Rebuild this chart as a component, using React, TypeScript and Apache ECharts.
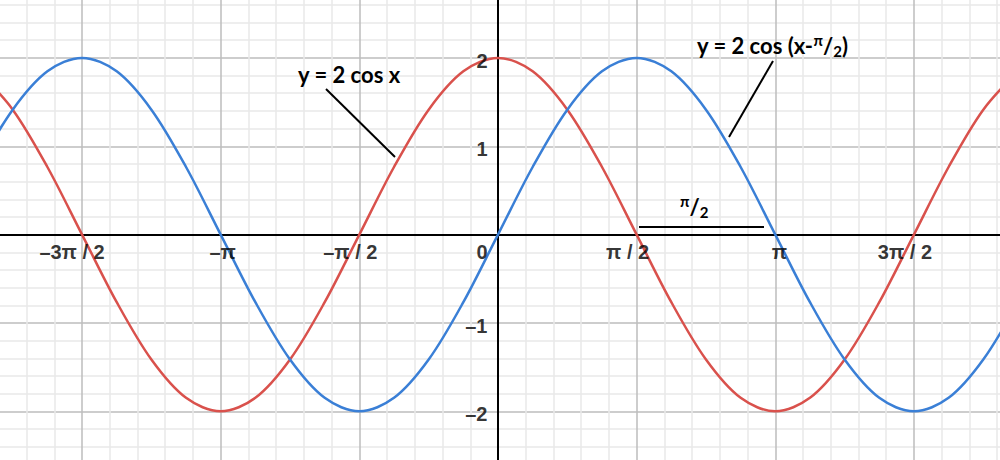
import React, { useEffect, useRef } from 'react';
import * as echarts from 'echarts';

// sample positions along x, in units of π (step π/8)
const xPi = [
  -1.875, -1.75, -1.625, -1.5, -1.375, -1.25, -1.125, -1, -0.875, -0.75, -0.625,
  -0.5, -0.375, -0.25, -0.125, 0, 0.125, 0.25, 0.375, 0.5, 0.625, 0.75, 0.875,
  1, 1.125, 1.25, 1.375, 1.5, 1.625, 1.75, 1.875,
];

// y = 2 cos x
const cosValues = [
  1.848, 1.414, 0.765, 0, -0.765, -1.414, -1.848, -2, -1.848, -1.414, -0.765,
  0, 0.765, 1.414, 1.848, 2, 1.848, 1.414, 0.765, 0, -0.765, -1.414, -1.848,
  -2, -1.848, -1.414, -0.765, 0, 0.765, 1.414, 1.848,
];

// y = 2 cos (x - π/2)
const shiftedValues = [
  0.765, 1.414, 1.848, 2, 1.848, 1.414, 0.765, 0, -0.765, -1.414, -1.848,
  -2, -1.848, -1.414, -0.765, 0, 0.765, 1.414, 1.848, 2, 1.848, 1.414, 0.765,
  0, -0.765, -1.414, -1.848, -2, -1.848, -1.414, -0.765,
];

const xTickValues = [-1.5, -1, -0.5, 0, 0.5, 1, 1.5];
const xTickLabels = ['–3π / 2', '–π', '–π / 2', '0', 'π / 2', 'π', '3π / 2'];
// horizontal nudge of each x label, as in the original
const xTickNudge = [-10, 2, -9, -16, -9, 4, -9];

const yTickValues = [-2, -1, 1, 2];
const yTickLabels = ['–2', '–1', '1', '2'];

const RED = '#d9514c';
const BLUE = '#3a7fd6';
const MAJOR = '#bdbdbd';
const MINOR = '#e8e8e8';

const tickFont = {
  fontFamily: '"Liberation Sans", Arial, sans-serif',
  fontWeight: 'bold' as const,
  fontSize: 20,
  color: '#000',
};

const noteFont = '"Lato", "Open Sans", sans-serif';

const noteRich = {
  a: { fontFamily: noteFont, fontWeight: 'bold', fontSize: 22, lineHeight: 26, color: '#000' },
  sup: { fontFamily: noteFont, fontWeight: 'bold', fontSize: 15, lineHeight: 15, verticalAlign: 'top', color: '#000' },
  sub: { fontFamily: noteFont, fontWeight: 'bold', fontSize: 15, lineHeight: 15, verticalAlign: 'bottom', color: '#000' },
};

const App: React.FC = () => {
  const chartRef = useRef<HTMLDivElement>(null);

  useEffect(() => {
    document.body.style.margin = '0';
    if (!chartRef.current) return;
    const chart = echarts.init(chartRef.current, undefined, { renderer: 'svg' });

    const gridAxis = {
      axisLine: { onZero: true, lineStyle: { color: '#000', width: 2 } },
      axisTick: { show: false },
      axisLabel: { show: false },
      splitLine: { show: true, lineStyle: { color: MAJOR, width: 1.5 } },
      minorTick: { show: false, splitNumber: 5 },
      minorSplitLine: { show: true, lineStyle: { color: MINOR, width: 1.5 } },
    };

    const option = {
      animation: false,
      backgroundColor: '#ffffff',
      grid: {
        left: -56.6,
        right: -52.6,
        top: -30.45,
        bottom: -39.65,
        containLabel: false,
        outerBoundsMode: 'none',
      },
      xAxis: { type: 'value', min: -2, max: 2, interval: 0.5, ...gridAxis },
      yAxis: { type: 'value', min: -3, max: 3, interval: 1, ...gridAxis },
      series: [
        {
          name: 'y = 2 cos x',
          type: 'line',
          data: xPi.map((x, i) => [x, cosValues[i]]),
          smooth: 0.33,
          showSymbol: false,
          symbol: 'none',
          lineStyle: { color: RED, width: 2.5 },
          z: 3,
        },
        {
          name: 'y = 2 cos (x-π/2)',
          type: 'line',
          data: xPi.map((x, i) => [x, shiftedValues[i]]),
          smooth: 0.33,
          showSymbol: false,
          symbol: 'none',
          lineStyle: { color: BLUE, width: 2.5 },
          z: 3,
        },
        {
          // tick labels along the x axis line
          name: 'xTicks',
          type: 'scatter',
          silent: true,
          symbolSize: 1,
          itemStyle: { color: 'rgba(0,0,0,0)' },
          data: xTickValues.map((v, i) => ({
            value: [v, 0],
            label: { offset: [xTickNudge[i], 0] },
          })),
          label: {
            show: true,
            position: 'bottom',
            distance: 7,
            ...tickFont,
            formatter: (p: any) => xTickLabels[p.dataIndex],
          },
          z: 5,
        },
        {
          // tick labels along the y axis line
          name: 'yTicks',
          type: 'scatter',
          silent: true,
          symbolSize: 1,
          itemStyle: { color: 'rgba(0,0,0,0)' },
          data: yTickValues.map((v) => [0, v]),
          label: {
            show: true,
            position: 'left',
            distance: 10,
            offset: [0, 3],
            ...tickFont,
            formatter: (p: any) => yTickLabels[p.dataIndex],
          },
          z: 5,
        },
      ],
      graphic: [
        {
          type: 'line',
          shape: { x1: 326, y1: 89, x2: 395, y2: 157 },
          style: { stroke: '#000', lineWidth: 2 },
          z: 10,
        },
        {
          type: 'text',
          x: 298,
          y: 74,
          style: {
            text: 'y = 2 cos x',
            font: `bold 22px ${noteFont}`,
            fill: '#000',
            verticalAlign: 'middle',
          },
          z: 10,
        },
        {
          type: 'line',
          shape: { x1: 773, y1: 61, x2: 729, y2: 137 },
          style: { stroke: '#000', lineWidth: 2 },
          z: 10,
        },
        {
          type: 'text',
          x: 697,
          y: 45,
          style: {
            text: '{a|y = 2 cos (x-}{sup|π}{a|/}{sub|2}{a|)}',
            verticalAlign: 'middle',
            rich: noteRich,
          },
          z: 10,
        },
        {
          type: 'line',
          shape: { x1: 639, y1: 227, x2: 764, y2: 227 },
          style: { stroke: '#000', lineWidth: 2 },
          z: 10,
        },
        {
          type: 'text',
          x: 680,
          y: 206,
          style: {
            text: '{sup|π}{a|/}{sub|2}',
            verticalAlign: 'middle',
            rich: noteRich,
          },
          z: 10,
        },
      ],
    };

    chart.setOption(option);

    return () => {
      chart.dispose();
    };
  }, []);

  return <div ref={chartRef} style={{ width: '1000px', height: '460px' }} />;
};

export default App;
